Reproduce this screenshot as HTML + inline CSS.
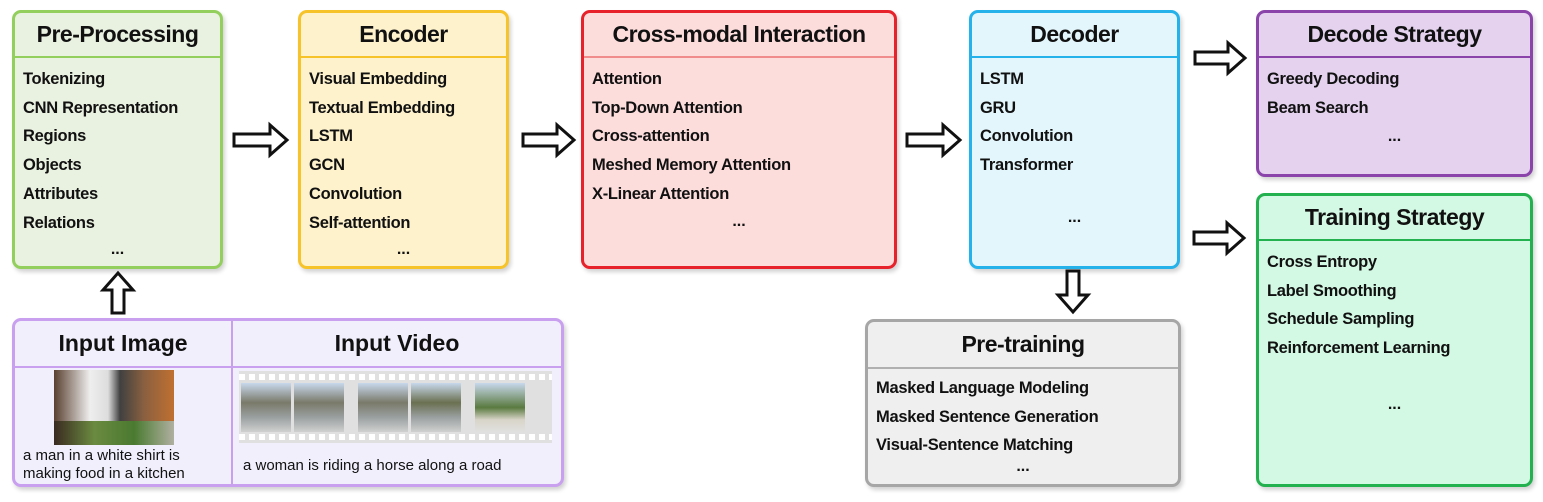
<!DOCTYPE html>
<html><head><meta charset="utf-8"><style>
body{margin:0;width:1543px;height:502px;background:#fff;position:relative;overflow:hidden;font-family:"Liberation Sans",sans-serif;}
.b{position:absolute;border:3px solid;border-radius:9px;box-sizing:border-box;box-shadow:2px 3px 4px rgba(0,0,0,0.18);}
.h{position:absolute;left:0;right:0;top:0;height:43px;border-bottom:2px solid;text-align:center;font-weight:bold;font-size:23px;line-height:43px;letter-spacing:-0.5px;color:#111;}
.it{position:absolute;left:8px;top:52px;font-weight:bold;font-size:16.5px;line-height:28.7px;color:#111;letter-spacing:-0.3px;white-space:nowrap;}
.dots{position:absolute;left:0;right:0;text-align:center;font-weight:bold;font-size:16px;color:#111;}
svg{position:absolute;left:0;top:0;}
.cap{position:absolute;font-size:15px;color:#111;line-height:18px;white-space:nowrap;}
</style></head><body>

<div class="b" style="left:12px;top:10px;width:211px;height:259px;border-color:#92cf5c;background:#e9f1e0">
 <div class="h" style="border-color:#92cf5c">Pre-Processing</div>
 <div class="it">Tokenizing<br>CNN Representation<br>Regions<br>Objects<br>Attributes<br>Relations</div>
 <div class="dots" style="top:228px">...</div>
</div>

<div class="b" style="left:298px;top:10px;width:211px;height:259px;border-color:#f7c32a;background:#fef2cc">
 <div class="h" style="border-color:#f7c32a">Encoder</div>
 <div class="it">Visual Embedding<br>Textual Embedding<br>LSTM<br>GCN<br>Convolution<br>Self-attention</div>
 <div class="dots" style="top:228px">...</div>
</div>

<div class="b" style="left:581px;top:10px;width:316px;height:259px;border-color:#e8222b;background:#fddcdc">
 <div class="h" style="border-color:#f08c8c">Cross-modal Interaction</div>
 <div class="it">Attention<br>Top-Down Attention<br>Cross-attention<br>Meshed Memory Attention<br>X-Linear Attention</div>
 <div class="dots" style="top:200px">...</div>
</div>

<div class="b" style="left:969px;top:10px;width:211px;height:259px;border-color:#25b2ea;background:#e3f6fc">
 <div class="h" style="border-color:#25b2ea">Decoder</div>
 <div class="it">LSTM<br>GRU<br>Convolution<br>Transformer</div>
 <div class="dots" style="top:196px">...</div>
</div>

<div class="b" style="left:1256px;top:10px;width:277px;height:167px;border-color:#8a44aa;background:#e4d2ef">
 <div class="h" style="border-color:#8a44aa">Decode Strategy</div>
 <div class="it">Greedy Decoding<br>Beam Search</div>
 <div class="dots" style="top:115px">...</div>
</div>

<div class="b" style="left:1256px;top:193px;width:277px;height:294px;border-color:#23b04e;background:#d3f8e3">
 <div class="h" style="border-color:#23b04e">Training Strategy</div>
 <div class="it">Cross Entropy<br>Label Smoothing<br>Schedule Sampling<br>Reinforcement Learning</div>
 <div class="dots" style="top:200px">...</div>
</div>

<div class="b" style="left:865px;top:319px;width:316px;height:168px;border-color:#a6a6a6;background:#efefef">
 <div class="h" style="border-color:#b0b0b0;height:45px;line-height:45px">Pre-training</div>
 <div class="it" style="top:52px">Masked Language Modeling<br>Masked Sentence Generation<br>Visual-Sentence Matching</div>
 <div class="dots" style="top:136px">...</div>
</div>

<div class="b" style="left:12px;top:318px;width:552px;height:169px;border-color:#c99fef;background:#f1effc">
 <div style="position:absolute;left:0;right:0;top:0;height:45px;border-bottom:2px solid #c99fef"></div>
 <div style="position:absolute;left:216px;top:0;bottom:0;border-left:2px solid #c99fef"></div>
 <div style="position:absolute;left:0;width:216px;top:0;height:45px;line-height:45px;text-align:center;font-weight:bold;font-size:23px;color:#111">Input Image</div>
 <div style="position:absolute;left:218px;right:0;top:0;height:45px;line-height:45px;text-align:center;font-weight:bold;font-size:23px;color:#111">Input Video</div>
 <div style="position:absolute;left:39px;top:49px;width:120px;height:75px;background:linear-gradient(90deg,#5a4030 0%,#eee 30%,#ddd 45%,#404040 55%,#8a6040 75%,#c07030 100%)"></div>
 <div style="position:absolute;left:39px;top:100px;width:120px;height:24px;background:linear-gradient(90deg,#3a2a20,#6a8a40,#4a7a30,#b0b0a0)"></div>
 <div class="cap" style="left:8px;top:126px">a man in a white shirt is<br>making food in a kitchen</div>
 <div style="position:absolute;left:224px;top:50px;width:313px;height:72px;background:#e0e0e0"></div>
 <div style="position:absolute;left:224px;top:53px;width:313px;height:6px;background:repeating-linear-gradient(90deg,#fff 0 6px,#e0e0e0 6px 10px)"></div>
 <div style="position:absolute;left:224px;top:113px;width:313px;height:6px;background:repeating-linear-gradient(90deg,#fff 0 6px,#e0e0e0 6px 10px)"></div>
 <div style="position:absolute;left:226px;top:62px;width:50px;height:49px;background:linear-gradient(180deg,#c8d8ec 0%,#7a7a6a 40%,#9aa0a0 70%,#d0d0d0 100%)"></div>
 <div style="position:absolute;left:279px;top:62px;width:50px;height:49px;background:linear-gradient(180deg,#c8d8ec 0%,#7a7a6a 40%,#9aa0a0 70%,#d0d0d0 100%)"></div>
 <div style="position:absolute;left:343px;top:62px;width:50px;height:49px;background:linear-gradient(180deg,#c8d8ec 0%,#7a7a6a 40%,#9aa0a0 70%,#d0d0d0 100%)"></div>
 <div style="position:absolute;left:396px;top:62px;width:50px;height:49px;background:linear-gradient(180deg,#c8d8ec 0%,#6a7050 40%,#9aa0a0 70%,#d0d0d0 100%)"></div>
 <div style="position:absolute;left:460px;top:62px;width:50px;height:49px;background:linear-gradient(180deg,#c8d8ec 0%,#5a7a40 50%,#d8d4c8 75%,#e0e0e0 100%)"></div>
 <div class="cap" style="left:228px;top:136px">a woman is riding a horse along a road</div>
</div>

<svg width="1543" height="502">
 <g fill="#fff" stroke="#111" stroke-width="3" stroke-linejoin="miter">
  <path d="M234,134 h36 v-9 l17,15 l-17,15 v-9 h-36 z"/>
  <path d="M523,134 h34 v-9 l17,15 l-17,15 v-9 h-34 z"/>
  <path d="M907,134 h36 v-9 l17,15 l-17,15 v-9 h-36 z"/>
  <path d="M1195,52 h33 v-9 l17,15 l-17,15 v-9 h-33 z"/>
  <path d="M1194,232 h33 v-9 l17,15 l-17,15 v-9 h-33 z"/>
  <path d="M1067,271 v24 h-9 l15,17 l15,-17 h-9 v-24 z"/>
  <path d="M112,313 v-23 h-9 l15,-17 l15,17 h-9 v23 z"/>
 </g>
</svg>
</body></html>
